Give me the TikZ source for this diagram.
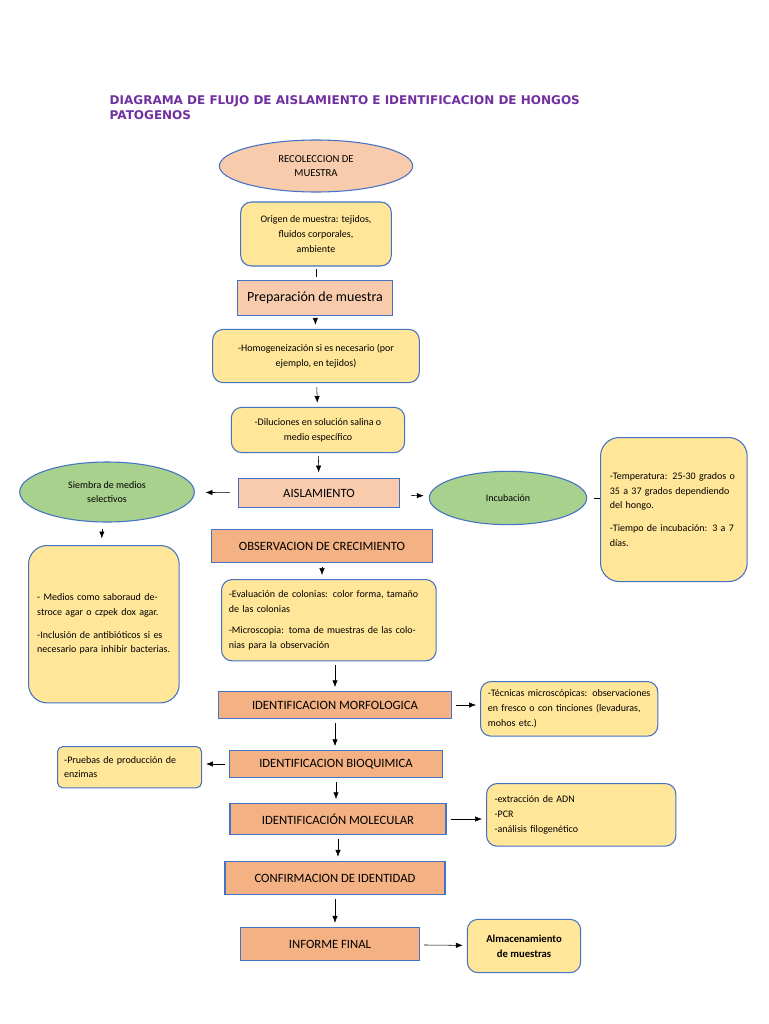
\documentclass[tikz,border=0pt]{standalone}
\usepackage{fontspec}
\setmainfont{Carlito}
\newfontfamily\titlefont{DejaVu Sans}
\usetikzlibrary{positioning, shapes.geometric}
\usetikzlibrary{arrows.meta}
\definecolor{bordblue}{HTML}{4472C4}
\definecolor{peach}{HTML}{F8CBAD}
\definecolor{orangebox}{HTML}{F4B183}
\definecolor{yellowbox}{HTML}{FFE699}
\definecolor{greenell}{HTML}{A9D18E}
\definecolor{titlepurple}{HTML}{7030A0}
\begin{document}
\begin{tikzpicture}[x=0.75pt, y=-0.75pt]
    \tikzset{note/.style = {draw=bordblue, fill=yellowbox, rounded corners=8pt, thick, align=left, font=\fontsize{7.5}{11}\selectfont, inner sep=5pt}}
    \tikzset{stage/.style = {draw=bordblue, fill=orangebox, thick, font=\fontsize{9.5}{11}\selectfont}}
    \tikzset{oval/.style = {ellipse, draw=bordblue, thick, align=center, font=\fontsize{7.5}{11}\selectfont}}
    \tikzset{arr/.style = {-{Latex[length=1.8mm, width=1.4mm]}, thin, shorten <=3pt, shorten >=3pt}}

    \useasboundingbox (0,0) rectangle (768,1024);

    \node[anchor=north west, text=titlepurple, align=left, font=\titlefont\bfseries\fontsize{9}{11}\selectfont] (title) at (105,91)
        {DIAGRAMA DE FLUJO DE AISLAMIENTO E IDENTIFICACION DE HONGOS\\PATOGENOS};

    \node[oval, fill=peach, minimum width=145pt, minimum height=39pt, font=\fontsize{8}{11}\selectfont] (recol) at (316,166) {RECOLECCION DE\\MUESTRA};
    \node[note, align=center, minimum width=113pt, minimum height=48pt] (origen) at (316,234) {Origen de muestra: tejidos,\\fluidos corporales,\\ambiente};
    \node[stage, fill=peach, minimum width=116pt, minimum height=26pt, font=\fontsize{10.5}{12}\selectfont] (prep) at (315,298) {Preparación de muestra};
    \node[note, align=center, minimum width=155pt, minimum height=40pt] (homog) at (316,356) {-Homogeneización si es necesario (por\\ejemplo, en tejidos)};
    \node[note, align=center, minimum width=130pt, minimum height=34pt] (dilu) at (318,430) {-Diluciones en solución salina o\\medio específico};
    \node[stage, fill=peach, minimum width=121pt, minimum height=22pt] (aisl) at (319,493) {AISLAMIENTO};
    \node[oval, fill=greenell, minimum width=131pt, minimum height=45pt] (siembra) at (107,492) {Siembra de medios\\selectivos};
    \node[oval, fill=greenell, minimum width=118pt, minimum height=40pt] (incub) at (508,498) {Incubación};
    \node[note, anchor=north west, minimum width=110pt, minimum height=108pt, text width=96pt, rounded corners=14pt] (temp) at (600,437)
        {-Temperatura: 25-30 grados o 35 a 37 grados dependiendo del hongo.\\[6pt]-Tiempo de incubación: 3 a 7 días.};
    \node[note, anchor=north west, minimum width=113pt, minimum height=118pt, text width=100pt, rounded corners=14pt] (medios) at (28,545)
        {- Medios como saboraud destroce agar o czpek dox agar.\\[6pt]-Inclusión de antibióticos si es necesario para inhibir bacterias.};
    \node[stage, minimum width=166pt, minimum height=25pt] (obs) at (322,546) {OBSERVACION DE CRECIMIENTO};
    \node[note, anchor=north west, minimum width=161pt, minimum height=61pt, text width=150pt] (eval) at (221,579)
        {-Evaluación de colonias: color forma, tamaño de las colonias\\[5pt]-Microscopia: toma de muestras de las colonias para la observación};
    \node[stage, minimum width=175pt, minimum height=20pt] (morf) at (335,705) {IDENTIFICACION MORFOLOGICA};
    \node[note, anchor=north west, minimum width=133pt, minimum height=41pt, text width=122pt] (tecn) at (480,681)
        {-Técnicas microscópicas: observaciones en fresco o con tinciones (levaduras, mohos etc.)};
    \node[stage, minimum width=160pt, minimum height=20pt] (bioq) at (336,764) {IDENTIFICACION BIOQUIMICA};
    \node[note, anchor=north west, minimum width=107pt, minimum height=31pt, text width=98pt, rounded corners=4pt] (pruebas) at (57,746)
        {-Pruebas de producción de enzimas};
    \node[stage, minimum width=162pt, minimum height=23pt] (molec) at (338,819) {IDENTIFICACIÓN MOLECULAR};
    \node[note, anchor=north west, minimum width=142pt, minimum height=47pt, text width=130pt] (extr) at (486,783)
        {-extracción de ADN\\-PCR\\-análisis filogenético};
    \node[stage, minimum width=165pt, minimum height=25pt] (conf) at (335,878) {CONFIRMACION DE IDENTIDAD};
    \node[stage, minimum width=134pt, minimum height=25pt] (inform) at (330,944) {INFORME FINAL};
    \node[note, align=center, minimum width=85pt, minimum height=40pt, font=\bfseries\fontsize{8}{11}\selectfont] (almac) at (524,946) {Almacenamiento\\de muestras};

    % main flow
    \draw[thin] (origen.south) ++(0,2) coordinate (o1) -- ++(0,8) coordinate (o2);
    \draw[arr] (prep) -- (homog);
    \draw[arr] (homog) -- (dilu);
    \draw[arr, shorten <=2pt, shorten >=4pt] (dilu) -- (aisl);
    \draw[arr, shorten <=6pt, shorten >=8pt] (aisl) -- (siembra);
    \draw[arr, shorten <=8pt, shorten >=4pt] (aisl) -- (incub);
    \draw[thin, shorten <=5pt] (incub.east) -- (temp.west |- incub.east);
    \draw[arr, shorten <=5pt, shorten >=5pt] (siembra.south -| medios.north) ++(-2,0) coordinate (s1) -- (medios.north -| s1);
    \draw[arr] (obs) -- (obs |- eval.north);
    \draw[arr] (morf.north |- eval.south) -- (morf);
    \draw[arr] (morf) -- (tecn.west |- morf);
    \draw[arr] (morf) -- (morf |- bioq.north);
    \draw[arr] (bioq) -- (pruebas.east |- bioq);
    \draw[arr] (bioq) -- (bioq |- molec.north);
    \draw[arr] (molec) -- (extr.west |- molec);
    \draw[arr] (molec) -- (molec |- conf.north);
    \draw[arr] (conf) -- (conf |- inform.north);
    \draw[arr] (inform) -- (almac);
\end{tikzpicture}
\end{document}
